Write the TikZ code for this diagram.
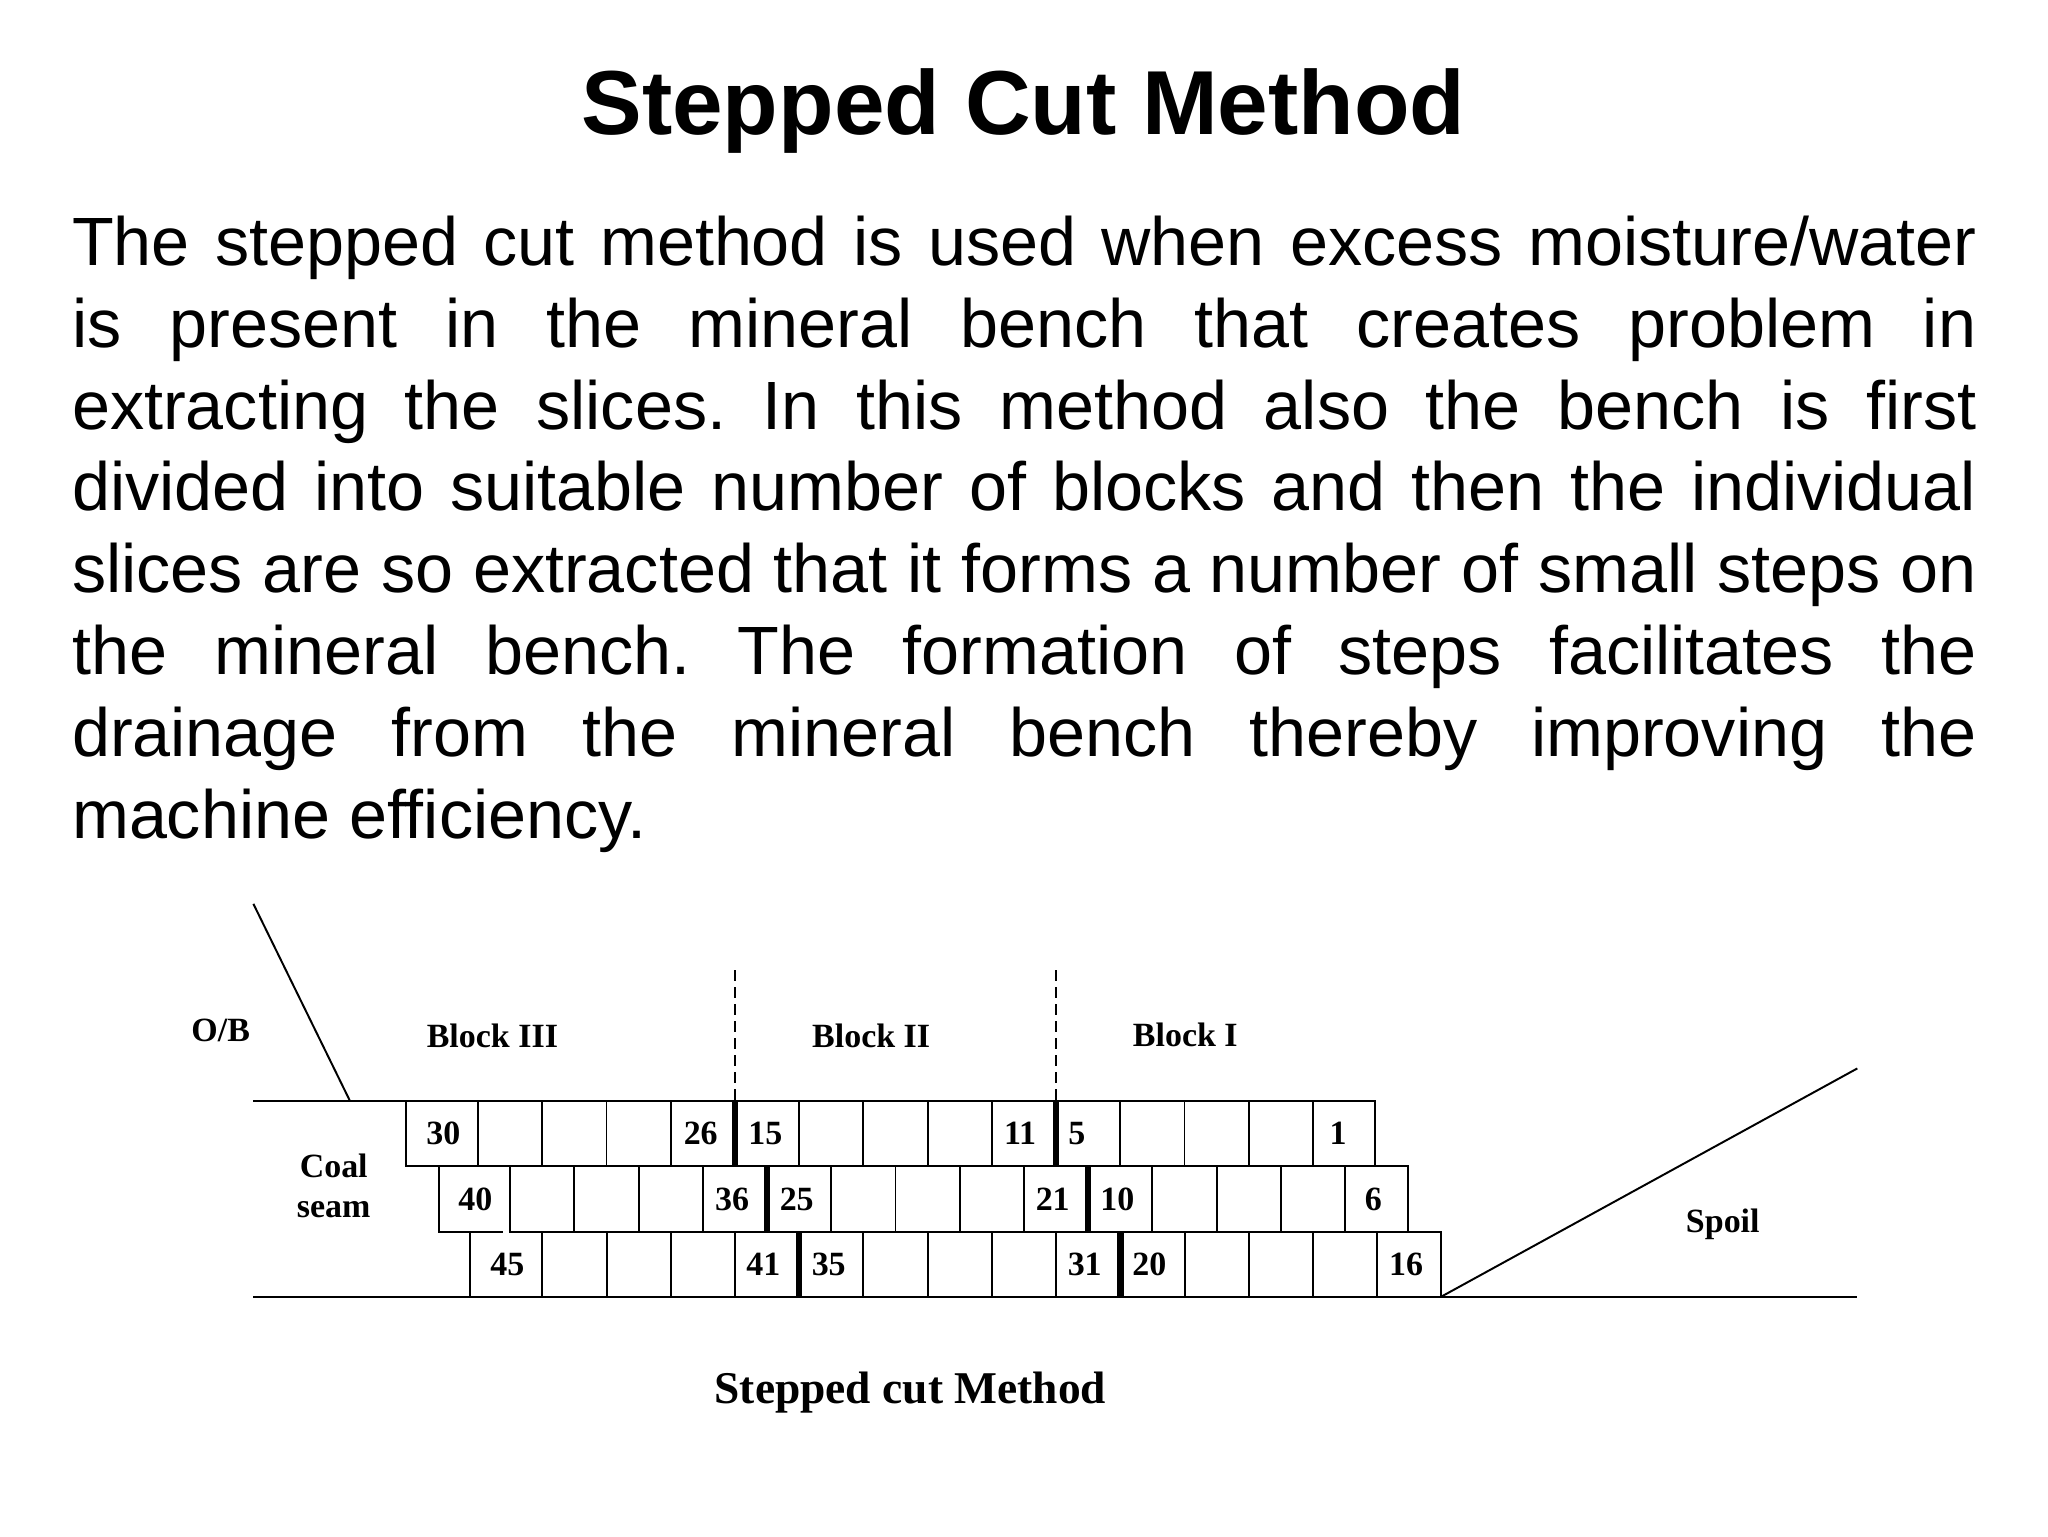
\documentclass[tikz,border=0pt]{standalone}
\usepackage{fontspec}
\setmainfont{Liberation Sans}
\newfontfamily\figfont{Liberation Serif}
\tikzset{
  thinline/.style={line width=1.5pt},
  sepline/.style={line width=5pt},
  fig/.style={font=\figfont\bfseries\fontsize{26}{30}\selectfont,inner sep=0pt},
}
\begin{document}
\begin{tikzpicture}[x=1pt,y=-1pt]
  \useasboundingbox (0,0) rectangle (1568,1176);
  \node[font=\bfseries\fontsize{69.6}{80}\selectfont,inner sep=0pt] (title) at (783.5,85) {Stepped Cut Method};
  \node[anchor=north west,inner sep=0pt,text width=1458pt,align=justify,
    font=\fontsize{52.3}{62.7}\selectfont] (body) at (55,165) {\hyphenpenalty=10000\frenchspacing
    The stepped cut method is used when excess moisture/water\linebreak
    is present in the mineral bench that creates problem in\linebreak
    extracting the slices. In this method also the bench is first\linebreak
    divided into suitable number of blocks and then the individual\linebreak
    slices are so extracted that it forms a number of small steps on\linebreak
    the mineral bench. The formation of steps facilitates the\linebreak
    drainage from the mineral bench thereby improving the\linebreak
    machine efficiency.\par};
  \draw[thinline] (194,692) -- (268,843);
  \draw[thinline] (194,843) -- (1053,843) -- (1053,893);
  \draw[thinline] (311,843) -- (311,893) -- (1078,893) -- (1078,943);
  \draw[thinline] (336,893) -- (336,943) -- (385,943);
  \draw[thinline] (390,943) -- (1103,943) -- (1103,993);
  \draw[thinline] (360,943) -- (360,993);
  \draw[thinline] (194,993) -- (1422,993);
  \draw[thinline] (1103,993) -- (1422,818);
  \foreach \x in {562.7,808.5}
    \draw[line width=1.2pt,dash pattern=on 8pt off 5pt] (\x,743) -- (\x,843);
  \foreach \k in {0,...,13} {
    \pgfmathsetmacro{\xa}{366+49.17*\k}
    \pgfmathsetmacro{\xb}{390.6+49.17*\k}
    \pgfmathsetmacro{\xc}{415.2+49.17*\k}
    \draw[thinline] (\xa,843) -- (\xa,893);
    \draw[thinline] (\xb,893) -- (\xb,943);
    \draw[thinline] (\xc,943) -- (\xc,993);
  }
  \foreach \x/\y in {562.7/843,808.5/843,587.3/893,833.1/893,611.9/943,857.7/943}
    \draw[sepline] (\x,\y) -- (\x,\y+50);
  \foreach \x/\label in {339.5/30,536.5/26,586/15,781/11,824.5/5,1024.5/1}
    \node[fig] (r\label) at (\x,868) {\label};
  \foreach \x/\label in {364/40,560.5/36,610/25,806/21,855.5/10,1051.5/6}
    \node[fig] (r\label) at (\x,918) {\label};
  \foreach \x/\label in {388.5/45,584.5/41,634.5/35,830.5/31,880/20,1076.5/16}
    \node[fig] (r\label) at (\x,968) {\label};
  \node[fig] (ob) at (169,789) {O/B};
  \node[fig] (blockc) at (377,793) {Block III};
  \node[fig] (blockb) at (667,793) {Block II};
  \node[fig] (blocka) at (907.5,792.5) {Block I};
  \node[fig] (coal) at (255.5,892.5) {Coal};
  \node[fig] (seam) at (255.5,926) {seam};
  \node[fig] (spoil) at (1319,937) {Spoil};
  \node[fig,font=\figfont\bfseries\fontsize{34.8}{40}\selectfont] (caption) at (697,1066) {Stepped cut Method};
\end{tikzpicture}
\end{document}
